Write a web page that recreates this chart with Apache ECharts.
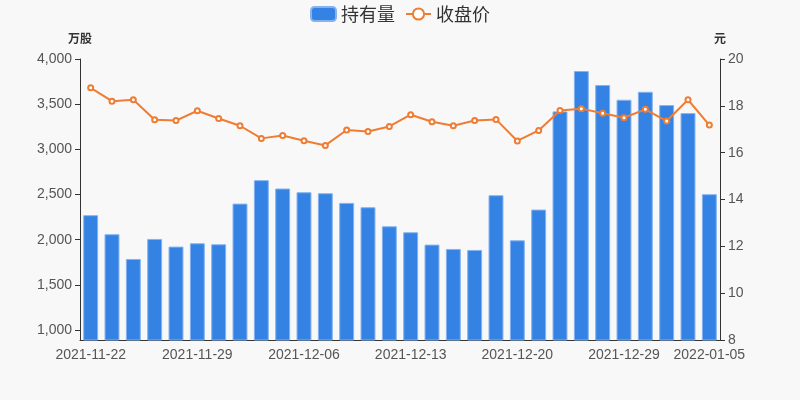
<!DOCTYPE html>
<html>
<head>
<meta charset="utf-8">
<script src="https://cdn.jsdelivr.net/npm/echarts@6/dist/echarts.min.js"></script>
<style>
html, body { margin: 0; padding: 0; background: #f8f8f8; }
#main { width: 800px; height: 400px; }
</style>
</head>
<body>
<div id="main"></div>
<script>
const dates = [
	"2021-11-22", "2021-11-23", "2021-11-24", "2021-11-25", "2021-11-26",
	"2021-11-29", "2021-11-30", "2021-12-01", "2021-12-02", "2021-12-03",
	"2021-12-06", "2021-12-07", "2021-12-08", "2021-12-09", "2021-12-10",
	"2021-12-13", "2021-12-14", "2021-12-15", "2021-12-16", "2021-12-17",
	"2021-12-20", "2021-12-21", "2021-12-22", "2021-12-23", "2021-12-28",
	"2021-12-29", "2021-12-30", "2021-12-31", "2022-01-04", "2022-01-05"
]
// 持有量 (万股)
const holding = [
	2271, 2060, 1786, 2008, 1923, 1960, 1949, 2399, 2659, 2566,
	2525, 2514, 2407, 2359, 2148, 2082, 1945, 1897, 1886, 2492,
	1993, 2333, 3420, 3867, 3712, 3549, 3637, 3490, 3401, 2503
]
// 收盘价 (元)
const closePrice = [
	18.77, 18.20, 18.26, 17.41, 17.37, 17.79, 17.46, 17.15, 16.61, 16.73,
	16.51, 16.31, 16.97, 16.90, 17.12, 17.62, 17.32, 17.15, 17.37, 17.42,
	16.50, 16.95, 17.80, 17.88, 17.68, 17.49, 17.85, 17.35, 18.26, 17.18
]

const font = "sans-serif"
const cjk = "'Noto Sans CJK SC', sans-serif"
const showIdx = (idx) => idx % 5 === 0 || idx === dates.length - 1
const myChart = echarts.init(document.getElementById("main"))

const option = {
	backgroundColor: "#f8f8f8",
	textStyle: { fontFamily: font },
	legend: {
		top: 0,
		left: "center",
		itemWidth: 25,
		itemHeight: 14,
		itemGap: 10,
		textStyle: { fontSize: 18, color: "#333", fontFamily: cjk },
		data: [
			{ name: "持有量", icon: "roundRect" },
			{ name: "收盘价" }
		]
	},
	grid: {
		left: 80,
		right: 80,
		top: 59,
		bottom: 60
	},
	xAxis: {
		type: "category",
		data: dates,
		axisLine: { lineStyle: { color: "#333" } },
		axisTick: { interval: showIdx, lineStyle: { color: "#333" } },
		axisLabel: {
			color: "#555",
			fontSize: 14,
			interval: showIdx
		}
	},
	yAxis: [{
		type: "value",
		name: "万股",
		min: 889,
		max: 4000,
		splitNumber: 5,
		nameTextStyle: { color: "#333", fontWeight: "bold", fontSize: 12, fontFamily: cjk },
		axisLine: { show: true, lineStyle: { color: "#333" } },
		axisTick: { show: true },
		splitLine: { show: false },
		axisLabel: {
			color: "#555",
			fontSize: 14,
			showMinLabel: false,
			formatter: (v) => v.toLocaleString("en-US")
		}
	}, {
		type: "value",
		name: "元",
		min: 8,
		max: 20,
		interval: 2,
		nameTextStyle: { color: "#333", fontWeight: "bold", fontSize: 12, fontFamily: cjk },
		axisLine: { show: true, lineStyle: { color: "#333" } },
		axisTick: { show: true },
		splitLine: { show: false },
		axisLabel: { color: "#555", fontSize: 14 }
	}],
	series: [{
		name: "持有量",
		type: "bar",
		yAxisIndex: 0,
		barWidth: "70%",
		itemStyle: {
			color: "#3483e4",
			borderColor: "#86b3ee",
			borderWidth: 1
		},
		data: holding
	}, {
		name: "收盘价",
		type: "line",
		yAxisIndex: 1,
		symbol: "emptyCircle",
		symbolSize: 5,
		lineStyle: { color: "#ee7d33", width: 2 },
		itemStyle: { color: "#ee7d33", borderColor: "#ee7d33", borderWidth: 1 },
		data: closePrice
	}]
}
myChart.setOption(option)
</script>
</body>
</html>
